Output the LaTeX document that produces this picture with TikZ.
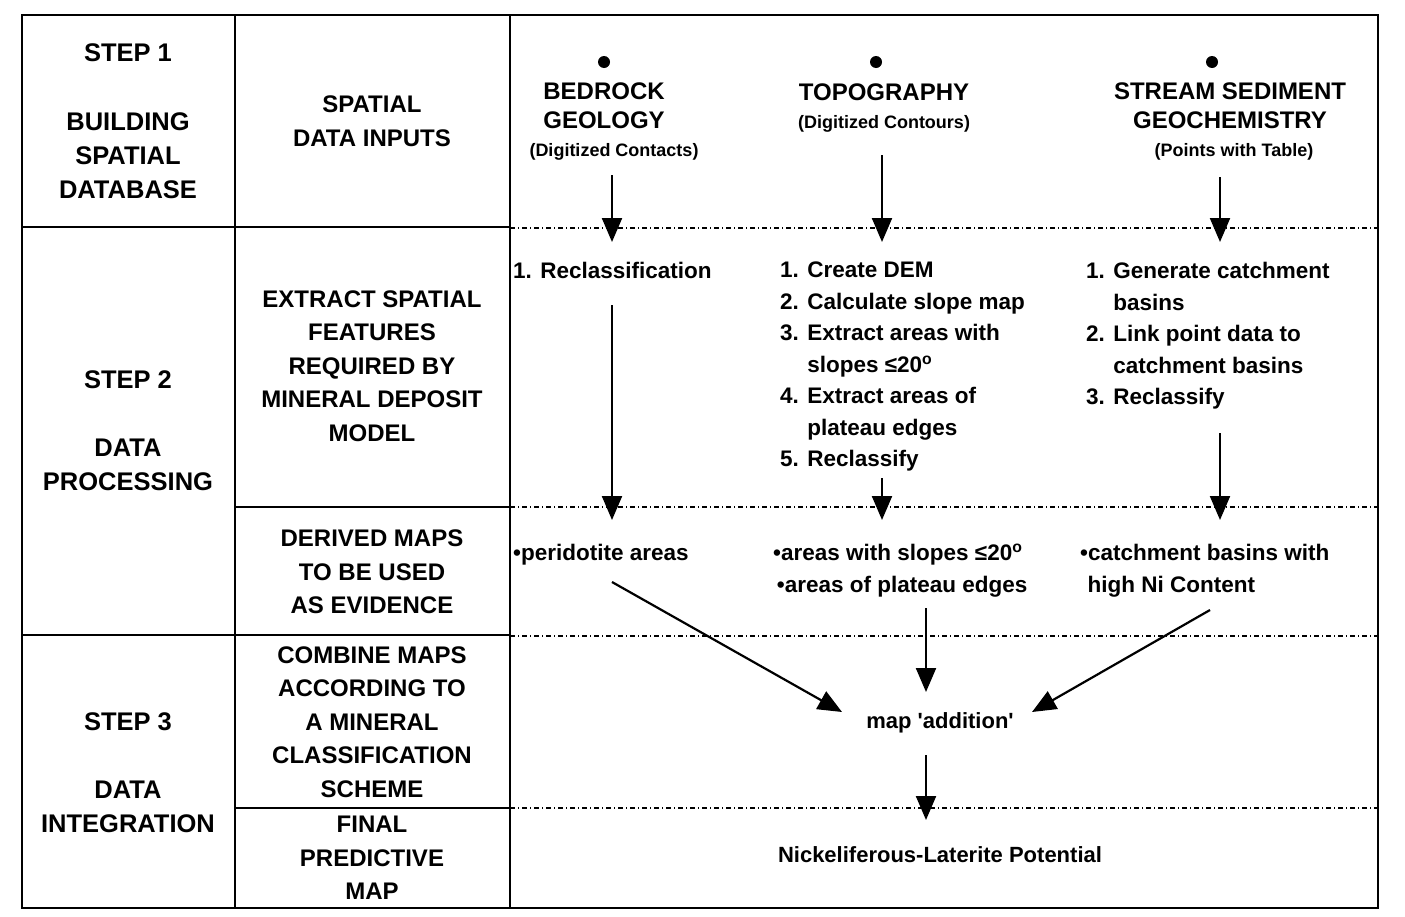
\documentclass[tikz,border=0pt]{standalone}
\usepackage{fontspec}
\setmainfont{Liberation Sans}
\usetikzlibrary{arrows.meta}
\begin{document}
\begin{tikzpicture}[x=1pt,y=-1pt,
 lbl/.style={font=\fontsize{25.5}{34}\selectfont\bfseries,align=center,inner sep=0},
 mid/.style={font=\fontsize{24}{33.5}\selectfont\bfseries,align=center,inner sep=0},
 txt/.style={font=\fontsize{22.5}{31.5}\selectfont\bfseries,align=left,inner sep=0,anchor=north west},
 sm/.style={font=\fontsize{18}{20}\selectfont\bfseries,inner sep=0},
 arr/.style={line width=2.2pt,-{Triangle[length=24pt,width=20pt]}},
 sep/.style={line width=1.3pt,dash pattern=on 5pt off 3pt on 1pt off 3pt},
 grid/.style={line width=2pt}]
\useasboundingbox (0,0) rectangle (1405,916);
\draw[grid] (22,15) rectangle (1378,908);
\draw[grid] (235,15) -- (235,908) (510,15) -- (510,908);
\draw[grid] (22,227) -- (510,227) (22,635) -- (510,635) (235,507) -- (510,507) (235,808) -- (510,808);
\foreach \y in {228,507,636,808} \draw[sep] (510,\y) -- (1378,\y);
% column 1
\node[lbl] (s1) at (128,53) {STEP 1};
\node[lbl] (s1b) at (128,156) {BUILDING\\SPATIAL\\DATABASE};
\node[lbl] (s2) at (128,380) {STEP 2};
\node[lbl] (s2b) at (128,465) {DATA\\PROCESSING};
\node[lbl] (s3) at (128,722) {STEP 3};
\node[lbl] (s3b) at (128,807) {DATA\\INTEGRATION};
% column 2
\node[mid] (c1) at (372,121) {SPATIAL\\DATA INPUTS};
\node[mid] (c2) at (372,366) {EXTRACT SPATIAL\\FEATURES\\REQUIRED BY\\MINERAL DEPOSIT\\MODEL};
\node[mid] (c3) at (372,572) {DERIVED MAPS\\TO BE USED\\AS EVIDENCE};
\node[mid] (c4) at (372,722) {COMBINE MAPS\\ACCORDING TO\\A MINERAL\\CLASSIFICATION\\SCHEME};
\node[mid] (c5) at (372,858) {FINAL\\PREDICTIVE\\MAP};
% inputs
\foreach \n/\x in {b1/604,b2/876,b3/1212} \fill (\x,62) circle (6pt);
\node[mid,font=\fontsize{24}{29}\selectfont\bfseries] (geo) at (604,106) {BEDROCK\\GEOLOGY};
\node[sm] (geos) at (614,152) {(Digitized Contacts)};
\node[mid] (top) at (884,92) {TOPOGRAPHY};
\node[sm] (tops) at (884,124) {(Digitized Contours)};
\node[mid,font=\fontsize{24}{29}\selectfont\bfseries] (str) at (1230,106) {STREAM SEDIMENT\\GEOCHEMISTRY};
\node[sm] (strs) at (1234,152) {(Points with Table)};
% processing
\node[txt] (p1) at (513,262) {1. Reclassification};
\node[txt] (p2) at (780,262) {1. Create DEM\\2. Calculate slope map\\3. Extract areas with\\\hphantom{3. }slopes \char"2264 20\textsuperscript{o}\\4. Extract areas of\\\hphantom{4. }plateau edges\\5. Reclassify};
\node[txt] (p3) at (1086,262) {1. Generate catchment\\\hphantom{1. }basins\\2. Link point data to\\\hphantom{2. }catchment basins\\3. Reclassify};
% derived
\node[txt] (d1) at (513,544) {\textbullet peridotite areas};
\node[txt] (d2) at (773,544) {\textbullet areas with slopes \char"2264 20\textsuperscript{o}\\\,\textbullet areas of plateau edges};
\node[txt] (d3) at (1080,544) {\textbullet catchment basins with\\\,\,high Ni Content};
\node[font=\fontsize{22}{25}\selectfont\bfseries] (add) at (940,723) {map \textquotesingle addition\textquotesingle};
\node[font=\fontsize{22}{25}\selectfont\bfseries] (fin) at (940,855) {Nickeliferous-Laterite Potential};
% arrows
\coordinate (a1s) at (612,175); \coordinate (a1e) at (612,242);
\coordinate (a2s) at (882,155); \coordinate (a2e) at (882,242);
\coordinate (a3s) at (1220,177); \coordinate (a3e) at (1220,242);
\coordinate (b1s) at (612,305); \coordinate (b1e) at (612,520);
\coordinate (b2s) at (882,478); \coordinate (b2e) at (882,520);
\coordinate (b3s) at (1220,433); \coordinate (b3e) at (1220,520);
\coordinate (e1s) at (612,582); \coordinate (e1e) at (842,712);
\coordinate (e2s) at (926,608); \coordinate (e2e) at (926,692);
\coordinate (e3s) at (1210,610); \coordinate (e3e) at (1032,712);
\coordinate (fs) at (926,755); \coordinate (fe) at (926,820);
\foreach \s/\e in {a1s/a1e,a2s/a2e,a3s/a3e,b1s/b1e,b2s/b2e,b3s/b3e,e1s/e1e,e2s/e2e,e3s/e3e,fs/fe}
  \draw[arr] (\s) -- (\e);
\end{tikzpicture}
\end{document}
